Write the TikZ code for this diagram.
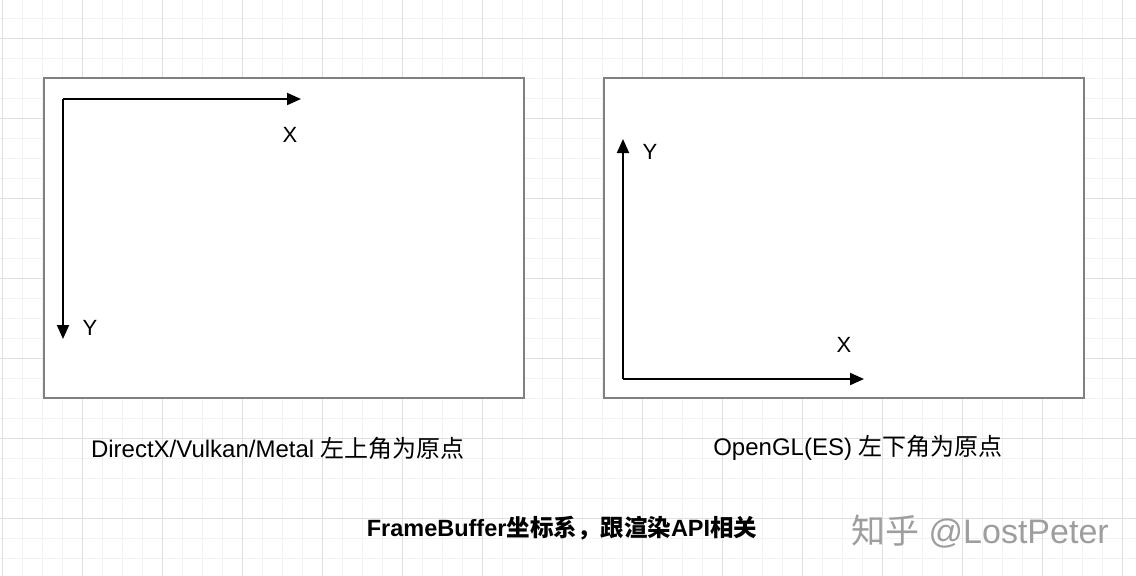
\documentclass[tikz,border=0pt]{standalone}
\usepackage{fontspec}
\usetikzlibrary{arrows.meta}
\setmainfont{Liberation Sans}
\newfontfamily\cjk{Noto Sans CJK SC}
\begin{document}
\begin{tikzpicture}[x=1pt,y=-1pt,
  frame/.style={draw=black!50,line width=1.2pt},
  axis/.style={draw=black,line width=2pt,-{Triangle[length=14pt,width=12pt]}},
  lbl/.style={font=\fontsize{22}{26}\selectfont,inner sep=0pt},
  captxt/.style={font=\fontsize{24}{28}\selectfont,inner sep=0pt}]
\useasboundingbox (0,0) rectangle (1136,576);
\fill[white] (0,0) rectangle (1136,576);
\foreach \i in {0,...,57} \draw[black!5,line width=0.8pt] (2+20*\i,0) -- (2+20*\i,576);
\foreach \i in {0,...,29} \draw[black!5,line width=0.8pt] (0,-2+20*\i) -- (1136,-2+20*\i);
\foreach \i in {0,...,14} \draw[black!12,line width=0.8pt] (2+80*\i,0) -- (2+80*\i,576);
\foreach \i in {0,...,7} \draw[black!12,line width=0.8pt] (0,38+80*\i) -- (1136,38+80*\i);
\node[frame,minimum width=480pt,minimum height=320pt,inner sep=0pt,fill=white] (L) at (284,238) {};
\node[frame,minimum width=480pt,minimum height=320pt,inner sep=0pt,fill=white] (R) at (844,238) {};
\coordinate (lo) at (63,99);
\coordinate (lx) at (301,99);
\coordinate (ly) at (63,339);
\draw[axis] (lo) -- (lx);
\draw[axis] (lo) -- (ly);
\node[lbl] (LX) at (290,135) {X};
\node[lbl] (LY) at (90,328) {Y};
\coordinate (ro) at (623,379);
\coordinate (rx) at (864,379);
\coordinate (ry) at (623,139);
\draw[axis] (ro) -- (rx);
\draw[axis] (ro) -- (ry);
\node[lbl] (RX) at (844,345) {X};
\node[lbl] (RY) at (650,152) {Y};
\node[captxt] (c1) at (278,448) {DirectX/Vulkan/Metal {\cjk 左上角为原点}};
\node[captxt] (c2) at (858,448) {OpenGL(ES) {\cjk 左下角为原点}};
\node[captxt,font=\fontsize{23.5}{28}\selectfont\bfseries] (c3) at (562,528) {FrameBuffer{\cjk 坐标系，跟渲染}API{\cjk 相关}};
\node[captxt,text=black!38,font=\fontsize{34}{38}\selectfont] (wm) at (980,532) {{\cjk 知乎} @LostPeter};
\end{tikzpicture}
\end{document}
